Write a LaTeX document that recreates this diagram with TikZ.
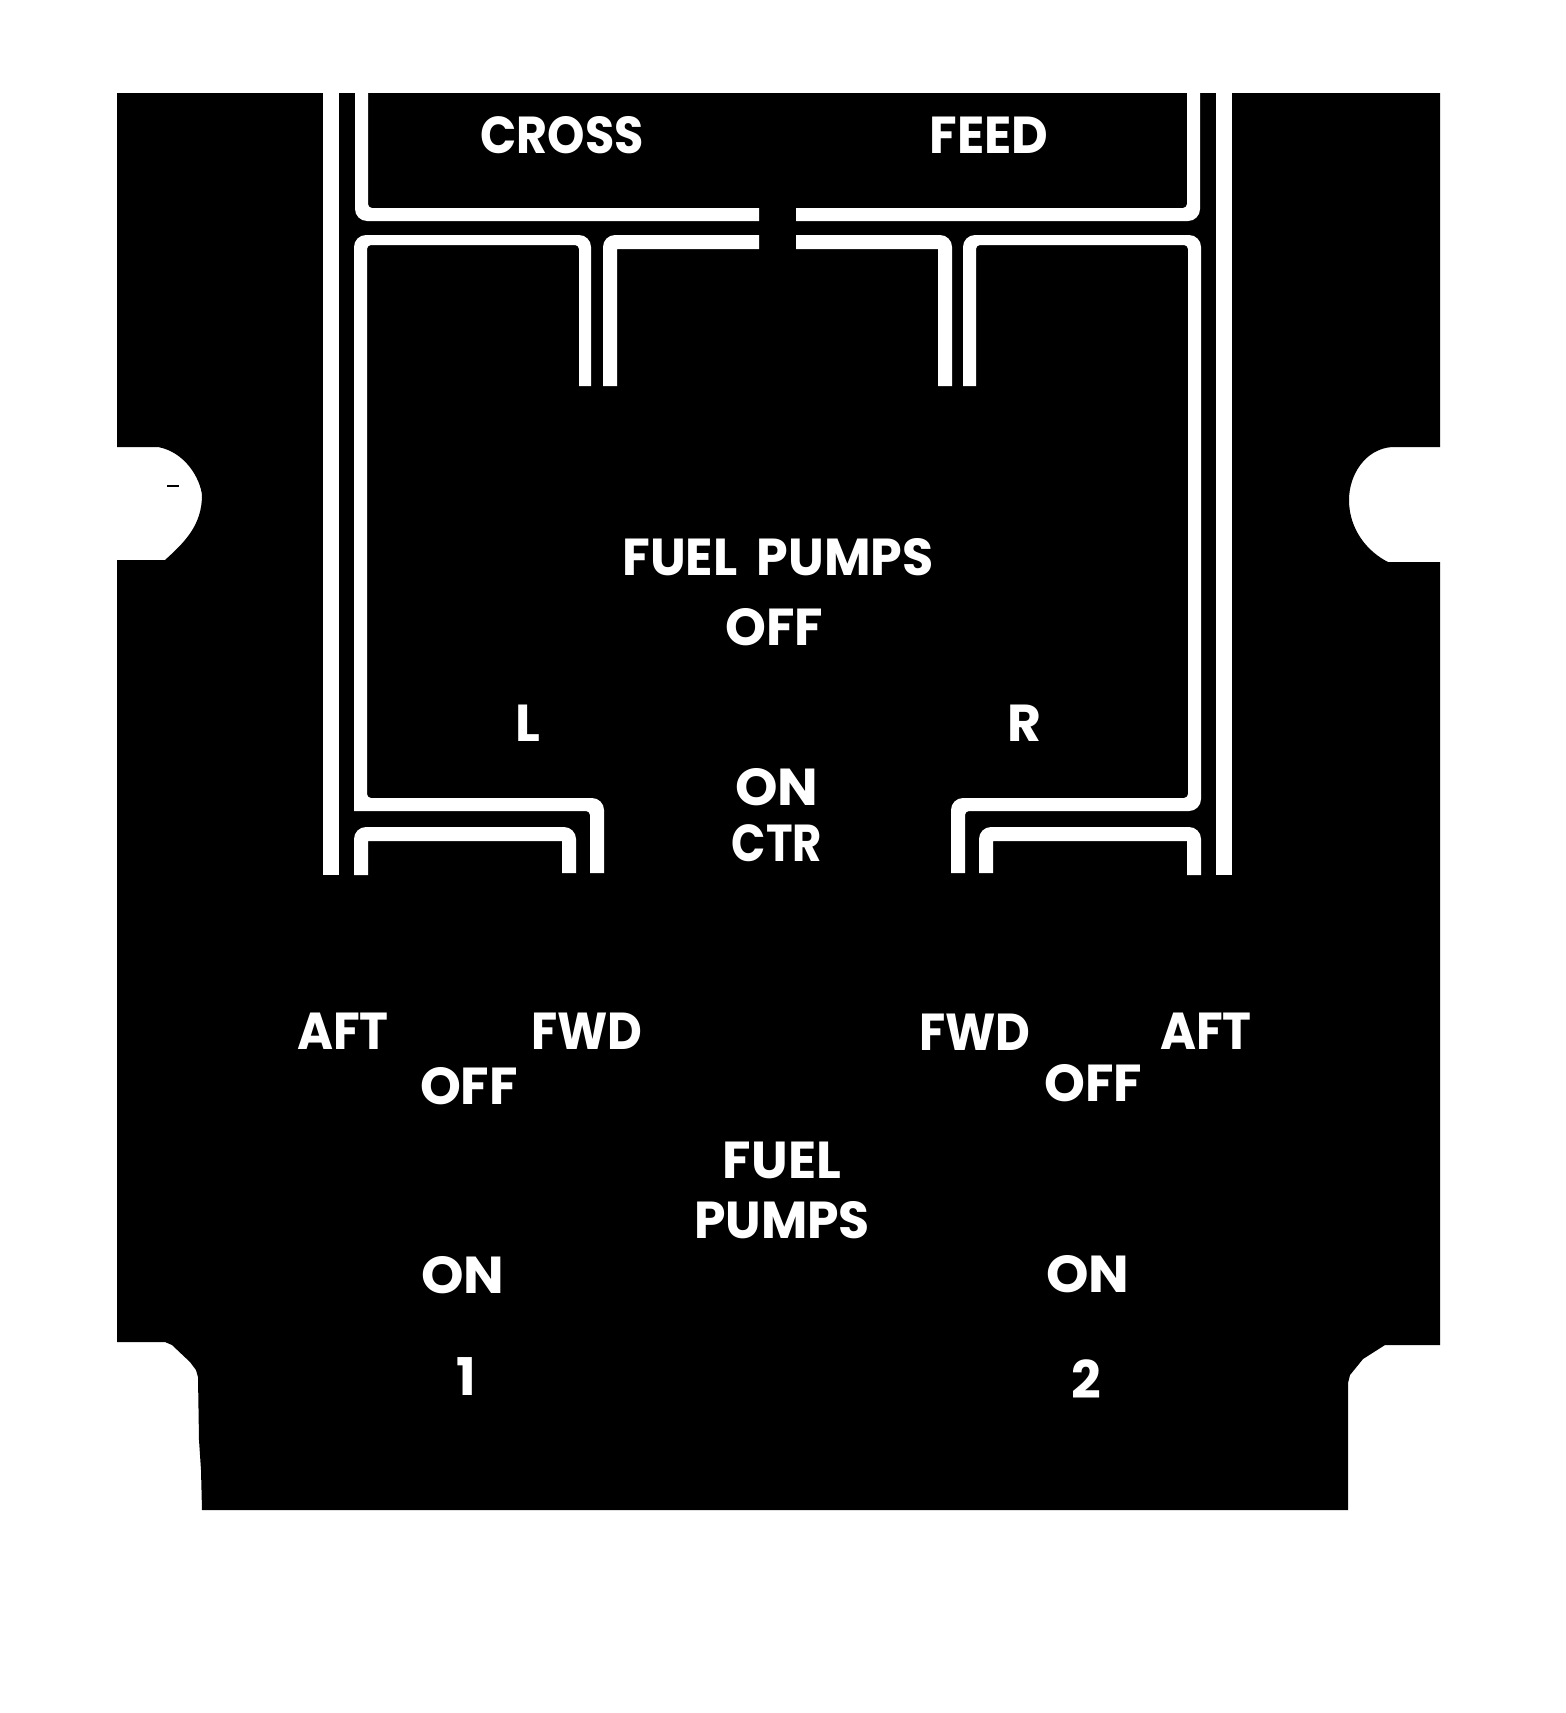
\documentclass[tikz,border=0pt]{standalone}
\usepackage{fontspec}
\setmainfont{Poppins}
\tikzset{
	lbl/.style={text=white,anchor=base,inner sep=0pt,font=\fontsize{26}{30}\selectfont\bfseries},
	squeeze/.style={transform shape,xscale=#1},
	pipe/.style={fill=white,rounded corners=2},
}
\begin{document}
\begin{tikzpicture}[x=0.5pt,y=-0.5pt]
		\useasboundingbox (0,0) rectangle (1565,1713);

		% panel with its four notches
		\fill [black] (117,93) -- (1440,93) -- (1440,447) -- (1392,447)
			.. controls (1365,449) and (1349,475) .. (1349,500)
			.. controls (1349,530) and (1368,552) .. (1388,562)
			-- (1440,562) -- (1440,1345) -- (1385,1345) -- (1363,1359) -- (1350,1375) -- (1348,1383) -- (1348,1510)
			-- (202,1510) -- (201,1470) -- (199,1440) -- (198,1377) -- (196,1370) -- (190,1362) -- (172,1345) -- (165,1342) -- (117,1342)
			-- (117,560) -- (165,560)
			.. controls (185,542) and (202,525) .. (202,495)
			.. controls (200,478) and (185,452) .. (158,447)
			-- (117,447) -- cycle;
		\draw [black,line width=1pt] (167,486) -- (179,486);

		% long outer bars
		\fill [white] (323,93) rectangle (339,875);
		\fill [white] (1216,93) rectangle (1232,875);

		% top channels
		\fill [pipe] (355,93) [rounded corners=6] -- (355,221) [sharp corners] -- (759,221) -- (759,208) [rounded corners=2] -- (368,208) [sharp corners] -- (368,93) -- cycle;
		\fill [pipe] (1200,93) [rounded corners=6] -- (1200,221) [sharp corners] -- (796,221) -- (796,208) [rounded corners=2] -- (1187,208) [sharp corners] -- (1187,93) -- cycle;

		% inner channels, left
		\fill [pipe] (354,811) [rounded corners=6] -- (354,235) -- (591,235) [sharp corners] -- (591,386) -- (579,386) [rounded corners=2] -- (579,245) -- (367,245) -- (367,798) [rounded corners=6] -- (604,798) [sharp corners] -- (604,873) -- (590,873) [rounded corners=2] -- (590,811) [sharp corners] -- cycle;
		\fill [pipe] (603,386) [rounded corners=6] -- (603,235) [sharp corners] -- (759,235) -- (759,249) -- (617,249) -- (617,386) -- cycle;
		\fill [pipe] (354,875) [rounded corners=6] -- (354,827) -- (576,827) [sharp corners] -- (576,873) -- (562,873) -- (562,841) -- (368,841) -- (368,875) -- cycle;

		% inner channels, right
		\fill [pipe] (963,386) [rounded corners=6] -- (963,235) -- (1201,235) -- (1201,811) [rounded corners=2] -- (965,811) [sharp corners] -- (965,873) -- (951,873) [rounded corners=6] -- (951,798) [rounded corners=2] -- (1188,798) -- (1188,245) -- (976,245) [sharp corners] -- (976,386) -- cycle;
		\fill [pipe] (796,235) [rounded corners=6] -- (952,235) [sharp corners] -- (952,386) -- (938,386) -- (938,249) -- (796,249) -- cycle;
		\fill [pipe] (979,873) [rounded corners=6] -- (979,827) -- (1201,827) [sharp corners] -- (1201,875) -- (1187,875) -- (1187,841) -- (993,841) -- (993,873) -- cycle;

		% upper labels
		\node [lbl,squeeze=0.915] (cross) at (562,153) {CROSS};
		\node [lbl,squeeze=0.97] (feed) at (989,153) {FEED};
		\node [lbl,squeeze=0.975] (pumpstitle) at (778,575) {FUEL\hspace{4.5pt} PUMPS};
		\node [lbl] (offtop) at (774,645) {OFF};
		\node [lbl] (left) at (528,741) {L};
		\node [lbl] (right) at (1024,741) {R};
		\node [lbl,squeeze=1.04] (on) at (777,805) {ON};
		\node [lbl,squeeze=0.865] (ctr) at (777,861) {CTR};

		% lower labels
		\node [lbl,squeeze=0.94] (aftone) at (343,1049) {AFT};
		\node [lbl,squeeze=0.92] (fwdone) at (587,1049) {FWD};
		\node [lbl] (offone) at (469,1104) {OFF};
		\node [lbl,squeeze=0.92] (fwdtwo) at (975,1050) {FWD};
		\node [lbl,squeeze=0.94] (afttwo) at (1206,1049) {AFT};
		\node [lbl] (offtwo) at (1093,1101) {OFF};
		\node [lbl] (fuel) at (782,1178) {FUEL};
		\node [lbl,squeeze=0.97] (pumps) at (782,1238) {PUMPS};
		\node [lbl,squeeze=1.04] (onone) at (463,1293) {ON};
		\node [lbl,squeeze=1.04] (ontwo) at (1088,1292) {ON};
		\node [lbl] (one) at (466,1395) {1};
		\node [lbl] (two) at (1086,1398) {2};
	\end{tikzpicture}
\end{document}
